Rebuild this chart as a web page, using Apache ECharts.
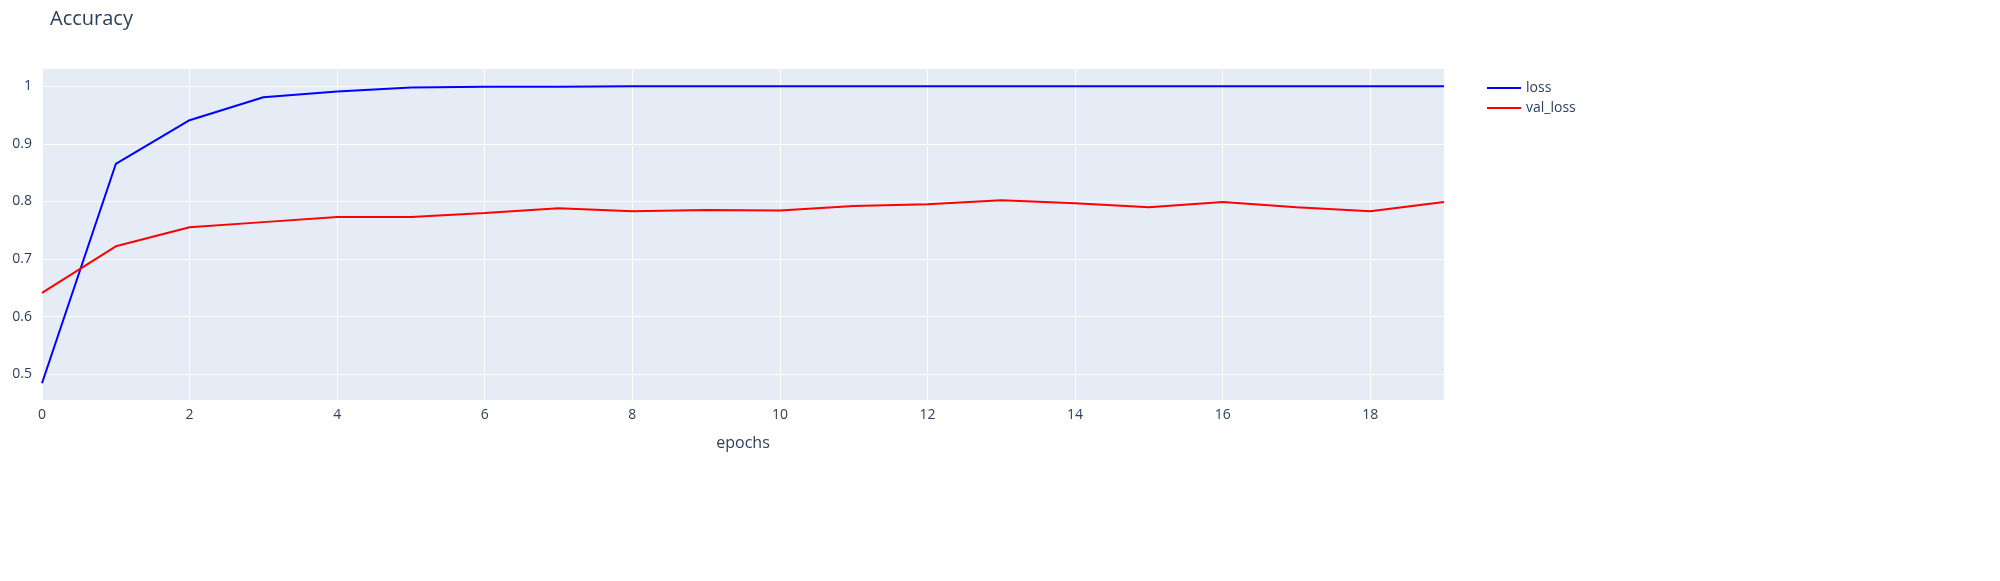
<!DOCTYPE html>
<html><head><meta charset="utf-8">
<script src="https://cdn.jsdelivr.net/npm/echarts@6/dist/echarts.min.js"></script>
<style>html,body{margin:0;padding:0;background:#fff}#c{width:2000px;height:581px}</style>
</head><body><div id="c"></div>
<script>
const epochs = [0,1,2,3,4,5,6,7,8,9,10,11,12,13,14,15,16,17,18,19];
const loss = [0.484,0.865,0.941,0.981,0.991,0.998,0.999,0.999,1.0,1.0,1.0,1.0,1.0,1.0,1.0,1.0,1.0,1.0,1.0,1.0];
const valLoss = [0.641,0.722,0.755,0.764,0.773,0.773,0.780,0.788,0.783,0.785,0.784,0.792,0.795,0.802,0.797,0.790,0.799,0.790,0.783,0.799];
const yTicks = [0.5,0.6,0.7,0.8,0.9,1];
const font = '"Open Sans", "Noto Sans", sans-serif';
const txt = '#2a3f5f';
const chart = echarts.init(document.getElementById('c'));
chart.setOption({
  animation:false,
  title:{text:'Accuracy',left:45,top:4,textStyle:{fontFamily:font,fontSize:20,fontWeight:'normal',color:txt}},
  legend:{orient:'vertical',left:1482,top:76,itemGap:6,itemWidth:34,itemHeight:2,icon:'rect',
    textStyle:{fontFamily:font,fontSize:14,color:txt},data:['loss','val_loss']},
  grid:{left:42,right:556,top:69,bottom:181,show:true,backgroundColor:'#E5ECF6',borderWidth:0},
  xAxis:{type:'value',min:0,max:19,interval:2,name:'epochs',nameLocation:'middle',nameGap:35,
    nameTextStyle:{fontFamily:font,fontSize:16,color:txt},
    axisLine:{show:false},axisTick:{show:false},
    axisLabel:{fontFamily:font,fontSize:14,color:txt,margin:8,showMaxLabel:false},
    splitLine:{show:true,lineStyle:{color:'#fff',width:1}}},
  yAxis:{type:'value',min:0.455,max:1.03,interval:0.005,
    axisLine:{show:false},axisTick:{show:false},splitLine:{show:false},
    axisLabel:{fontFamily:font,fontSize:14,color:txt,margin:10,
      formatter:v=>{const r=Math.round(v*10)/10; return Math.abs(v-r)<1e-6 && r>=0.5 ? String(r):'';}}},
  series:[
    {name:'loss',type:'line',data:epochs.map((e,i)=>[e,loss[i]]),showSymbol:false,
     lineStyle:{color:'#0000ff',width:2},itemStyle:{color:'#0000ff'},z:3,
     markLine:{silent:true,symbol:'none',label:{show:false},lineStyle:{color:'#fff',type:'solid',width:1},
       data:yTicks.map(v=>({yAxis:v})),z:1}},
    {name:'val_loss',type:'line',data:epochs.map((e,i)=>[e,valLoss[i]]),showSymbol:false,
     lineStyle:{color:'#ff0000',width:2},itemStyle:{color:'#ff0000'},z:3}
  ]
});
</script></body></html>
